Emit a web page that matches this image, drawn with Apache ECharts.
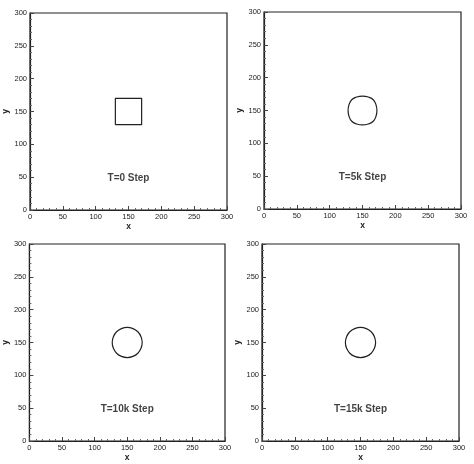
<!DOCTYPE html><html><head><meta charset="utf-8"><script src="https://cdn.jsdelivr.net/npm/echarts@6/dist/echarts.min.js"></script></head><body style="margin:0"><div id="c" style="width:474px;height:464px"></div><script>
const titles=['T=0 Step','T=5k Step','T=10k Step','T=15k Step'];
const ticks=[0,50,100,150,200,250,300];
const shape0=[[130,130],[170,130],[170,170],[130,170],[130,130]];
const shape5=[[172,150],[170.5,158.9],[166.4,166.4],[158.9,170.5],[150,172],[141.1,170.5],[133.6,166.4],[129.5,158.9],[128,150],[129.5,141.1],[133.6,133.6],[141.1,129.5],[150,128],[158.9,129.5],[166.4,133.6],[170.5,141.1],[172,150]];
const shape10=[[173,150],[171.2,158.8],[166.3,166.3],[158.8,171.2],[150,173],[141.2,171.2],[133.7,166.3],[128.8,158.8],[127,150],[128.8,141.2],[133.7,133.7],[141.2,128.8],[150,127],[158.8,128.8],[166.3,133.7],[171.2,141.2],[173,150]];
const shape15=[[173,150],[171.2,158.8],[166.3,166.3],[158.8,171.2],[150,173],[141.2,171.2],[133.7,166.3],[128.8,158.8],[127,150],[128.8,141.2],[133.7,133.7],[141.2,128.8],[150,127],[158.8,128.8],[166.3,133.7],[171.2,141.2],[173,150]];
const shapes=[shape0,shape5,shape10,shape15];
const labelPos=[150,48];
const pos=[[30,13],[264,12],[28,244],[262,244]];
const grid=[],xAxis=[],yAxis=[],series=[];
const ax={min:0,max:300,interval:50,axisLine:{show:true,onZero:false,lineStyle:{color:'#222',width:1.2}},axisTick:{show:true,inside:true,length:4,lineStyle:{color:'#444'}},minorTick:{show:true,splitNumber:5,length:2,lineStyle:{color:'#666'}},splitLine:{show:false},axisLabel:{fontSize:7.5,color:'#222',fontFamily:'Liberation Sans',margin:3},nameTextStyle:{fontSize:8.5,fontWeight:'bold',color:'#222',fontFamily:'Liberation Sans'}};
for(let i=0;i<4;i++){
 grid.push({left:pos[i][0],top:pos[i][1],width:197,height:197,show:true,borderColor:'#222',borderWidth:1.2});
 xAxis.push(Object.assign({},ax,{type:'value',gridIndex:i,name:'x',nameLocation:'middle',nameGap:9}));
 yAxis.push(Object.assign({},ax,{type:'value',gridIndex:i,name:'y',nameLocation:'middle',nameGap:11}));
 series.push({type:'line',xAxisIndex:i,yAxisIndex:i,data:shapes[i],smooth:i>0?0.5:false,showSymbol:false,lineStyle:{color:'#222',width:1.2},silent:true});
 series.push({type:'scatter',xAxisIndex:i,yAxisIndex:i,data:[labelPos],symbolSize:0,label:{show:true,position:'inside',formatter:titles[i],fontSize:10,fontWeight:'bold',color:'#111',fontFamily:'Liberation Sans'},silent:true});
}
echarts.init(document.getElementById('c')).setOption({animation:false,grid,xAxis,yAxis,series});
</script></body></html>
